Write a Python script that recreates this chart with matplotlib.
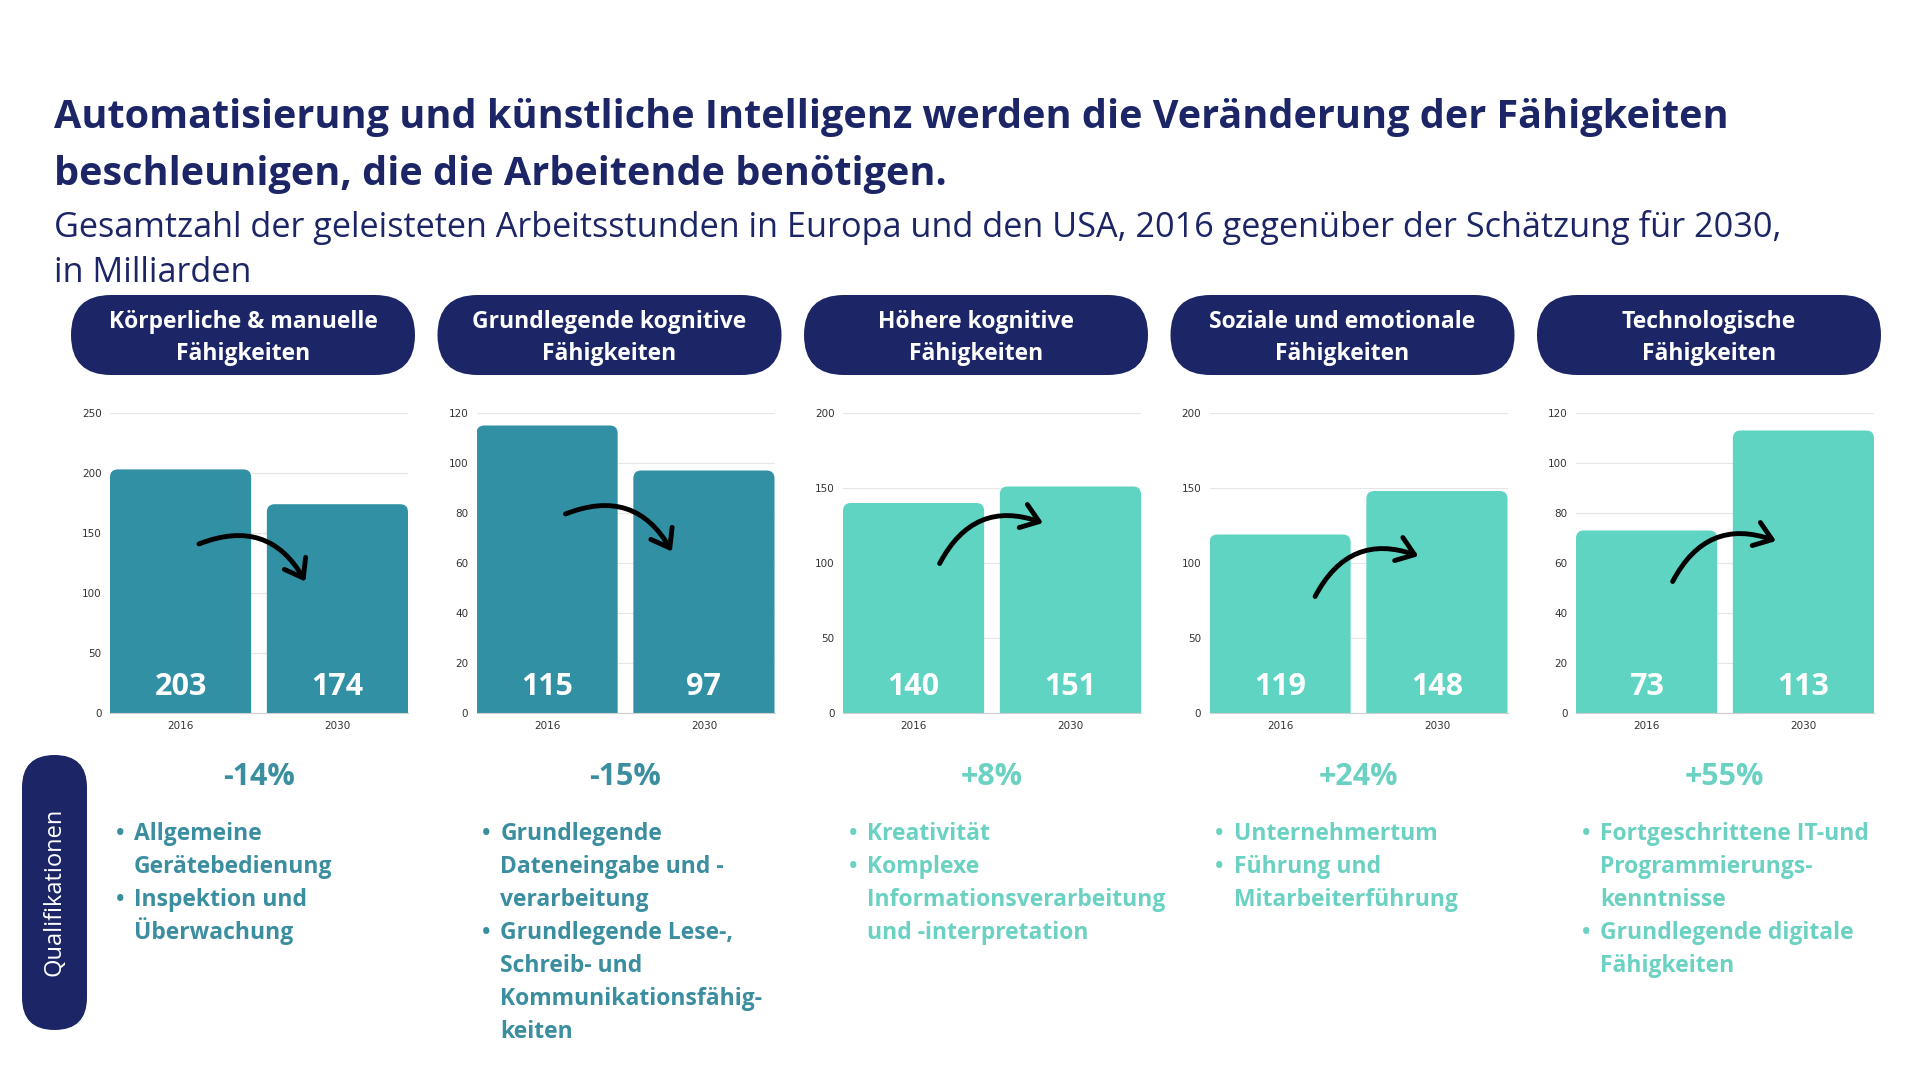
import matplotlib
matplotlib.use("Agg")
from matplotlib import pyplot as plt
from matplotlib.patches import FancyBboxPatch, FancyArrowPatch

# data
categories = ["Körperliche & manuelle\nFähigkeiten",
              "Grundlegende kognitive\nFähigkeiten",
              "Höhere kognitive\nFähigkeiten",
              "Soziale und emotionale\nFähigkeiten",
              "Technologische\nFähigkeiten"]
years = ["2016", "2030"]
hours_2016 = [203, 115, 140, 119, 73]
hours_2030 = [174, 97, 151, 148, 113]
y_max = [250, 120, 200, 200, 120]
y_step = [50, 20, 50, 50, 20]
changes = ["-14%", "-15%", "+8%", "+24%", "+55%"]
skills = [
    [["Allgemeine", "Gerätebedienung"], ["Inspektion und", "Überwachung"]],
    [["Grundlegende", "Dateneingabe und -", "verarbeitung"],
     ["Grundlegende Lese-,", "Schreib- und", "Kommunikationsfähig-", "keiten"]],
    [["Kreativität"], ["Komplexe", "Informationsverarbeitung", "und -interpretation"]],
    [["Unternehmertum"], ["Führung und", "Mitarbeiterführung"]],
    [["Fortgeschrittene IT-und", "Programmierungs-", "kenntnisse"],
     ["Grundlegende digitale", "Fähigkeiten"]],
]

title_lines = ["Automatisierung und künstliche Intelligenz werden die Veränderung der Fähigkeiten",
               "beschleunigen, die die Arbeitende benötigen."]
subtitle_lines = ["Gesamtzahl der geleisteten Arbeitsstunden in Europa und den USA, 2016 gegenüber der Schätzung für 2030,",
                  "in Milliarden"]

# styles / layout (pixels)
NAVY = "#1c2566"
TEAL = "#3190a4"
MINT = "#5fd4c2"
TEAL_TXT = "#3b8ea0"
MINT_TXT = "#6bd2c3"
FONT = "Open Sans"
bar_colors = [TEAL, TEAL, MINT, MINT, MINT]
txt_colors = [TEAL_TXT, TEAL_TXT, MINT_TXT, MINT_TXT, MINT_TXT]
# arrow start/end in axes fraction, per panel
arrows = [((0.29, 0.56), (0.66, 0.43)),
          ((0.29, 0.66), (0.66, 0.53)),
          ((0.32, 0.49), (0.68, 0.63)),
          ((0.35, 0.38), (0.71, 0.52)),
          ((0.32, 0.43), (0.68, 0.57))]

W, H = 1920, 1080
STEP = 366.5
fig = plt.figure(figsize=(19.2, 10.8), dpi=100)
fig.patch.set_facecolor("white")

# overlay in pixel coordinates for text and pills
ov = fig.add_axes([0, 0, 1, 1], zorder=0)
ov.set_xlim(0, W)
ov.set_ylim(H, 0)
ov.axis("off")

ov.text(54, 128, title_lines[0], fontsize=28.5, fontweight="bold", color=NAVY,
        family=FONT, va="baseline")
ov.text(54, 185, title_lines[1], fontsize=28.5, fontweight="bold", color=NAVY,
        family=FONT, va="baseline")
ov.text(54, 237, subtitle_lines[0], fontsize=24.7, color=NAVY, family=FONT,
        va="baseline")
ov.text(54, 282, subtitle_lines[1], fontsize=24.7, color=NAVY, family=FONT,
        va="baseline")

# Qualifikationen side pill
ov.add_patch(FancyBboxPatch((22, 755), 65, 275,
                            boxstyle="round,pad=0,rounding_size=32.5",
                            fc=NAVY, ec="none"))
ov.text(54, 892, "Qualifikationen", rotation=90, fontsize=17, color="white",
        family=FONT, ha="center", va="center")

bw = 0.9
for i in range(5):
    off = STEP * i
    # header pill
    ov.add_patch(FancyBboxPatch((71 + off, 295), 344, 80,
                                boxstyle="round,pad=0,rounding_size=40",
                                fc=NAVY, ec="none"))
    ov.text(243 + off, 338, categories[i], fontsize=16.5, fontweight="bold",
            color="white", family=FONT, ha="center", va="center",
            linespacing=1.5)

    # bar chart
    left = 110 + off
    ax = fig.add_axes([left / W, 1 - 713 / H, 298 / W, 300 / H], zorder=2)
    ax.set_facecolor("none")
    vals = [hours_2016[i], hours_2030[i]]
    bars = ax.bar([0, 1], vals, width=bw, color=bar_colors[i], zorder=2)
    ax.set_xlim(-bw / 2, 1 + bw / 2)
    ax.set_ylim(0, y_max[i])
    ax.set_yticks(range(0, y_max[i] + 1, y_step[i]))
    ax.set_xticks([0, 1])
    ax.set_xticklabels(years)
    ax.tick_params(length=0, labelsize=7.5, colors="#333333", pad=6)
    ax.grid(axis="y", color="#e6e6e6", lw=0.8, zorder=0)
    for s in ["top", "right", "left"]:
        ax.spines[s].set_visible(False)
    ax.spines["bottom"].set_color("#d0d0d0")
    ax.spines["bottom"].set_zorder(3)

    # rounded top corners
    asp = (y_max[i] / 300) / ((1 + bw) / 298)
    r = 0.05
    for b in bars:
        x0, h = b.get_x(), b.get_height()
        b.set_visible(False)
        ax.add_patch(FancyBboxPatch((x0, -r * asp * 2), b.get_width(), h + r * asp * 2,
                                    boxstyle=f"round,pad=0,rounding_size={r}",
                                    mutation_aspect=asp, fc=bar_colors[i],
                                    ec="none", zorder=2, clip_on=True))
        ax.text(x0 + b.get_width() / 2, 0.06 * y_max[i], str(h), ha="center",
                va="baseline", fontsize=22, fontweight="bold", color="white",
                family=FONT, zorder=4)

    # curved arrow
    a0, a1 = arrows[i]
    ax.add_patch(FancyArrowPatch(a0, a1, transform=ax.transAxes,
                                 connectionstyle="arc3,rad=-0.45",
                                 arrowstyle="->,head_length=0.55,head_width=0.4",
                                 mutation_scale=22, lw=3.5, color="black",
                                 capstyle="round", joinstyle="round", zorder=5))

    # change label
    ov.text(left + 149, 785, changes[i], fontsize=22, fontweight="bold",
            color=txt_colors[i], family=FONT, ha="center", va="baseline")

    # bullet list
    y = 840
    for item in skills[i]:
        ov.text(120 + off, y, "•", fontsize=16, fontweight="bold",
                color=txt_colors[i], family=FONT, ha="center", va="baseline")
        for line in item:
            ov.text(134 + off, y, line, fontsize=16.5, fontweight="bold",
                    color=txt_colors[i], family=FONT, va="baseline")
            y += 33

fig.savefig("out.png", dpi=100, facecolor="white")
